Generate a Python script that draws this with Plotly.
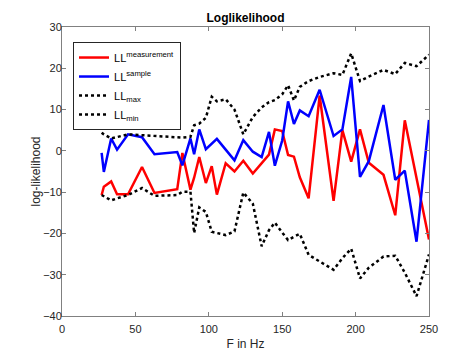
import plotly.graph_objects as go

freq = [27, 28.5, 33.5, 37.5, 45, 54.5, 63, 78.5, 82, 87.5, 90, 93.5, 98, 102, 105.5,
        111.5, 117.5, 123.5, 130, 136, 141, 145, 150, 154, 158, 162, 168, 175.5, 185,
        191, 197, 203, 209, 219, 227, 233.5, 241.5, 250]

ll_measurement = [-10.7, -8.7, -7.4, -10.5, -10.5, -3.9, -10.2, -9.3, -0.5, -9.4, -6.5, -1.5,
                  -7.8, -3.7, -10.6, -3.0, -5.0, -2.4, -5.5, -3.0, -0.9, 5.2, 4.8, -1.0, -1.4,
                  -6.4, -11.5, 13.4, -12.1, 5.0, -2.6, 5.2, -2.9, -5.8, -15.6, 7.4, -7.0, -21.5]

ll_sample = [-0.5, -5.1, 3.0, 0.3, 4.0, 3.3, -0.8, -0.3, -3.5, 3.0, -0.8, 5.2, 0.4, 1.8, 2.9,
             0.3, -2.3, 2.6, -0.2, -1.5, 4.6, -3.6, 2.5, 12.0, 6.5, 9.8, 8.4, 14.8, 3.6, 5.2,
             17.9, -6.3, -2.5, 11.1, -7.0, -4.8, -22.0, 7.5]

ll_max = [4.4, 4.0, 3.0, 3.4, 4.0, 3.8, 3.6, 3.4, 3.2, 3.4, 6.2, 6.6, 8.0, 13.1, 12.0, 12.5,
          10.0, 4.0, 8.2, 10.5, 11.8, 12.3, 13.7, 15.9, 12.2, 15.5, 16.9, 17.9, 18.8, 18.4,
          23.6, 16.9, 18.0, 19.6, 18.6, 21.3, 20.5, 23.3]

ll_min = [-10.7, -11.0, -12.0, -11.5, -10.7, -9.0, -10.9, -10.7, -9.9, -9.9, -19.9, -13.7,
          -14.8, -19.6, -19.9, -20.4, -19.5, -10.1, -12.8, -23.1, -19.2, -17.4, -19.8, -21.6,
          -20.8, -20.1, -25.2, -26.8, -28.8, -26.0, -23.7, -30.9, -28.3, -25.6, -25.4, -29.5,
          -35.2, -25.1]

x_ticks = [0, 50, 100, 150, 200, 250]
y_ticks = [-40, -30, -20, -10, 0, 10, 20, 30]

FONT = "Liberation Sans, Arial, Helvetica, sans-serif"

# page has an 8px body margin, so figure coordinates = page coordinates - 8
L, T, R, B = 54, 19, 53, 47.3
PLOT_W = 474 - L - R

fig = go.Figure()
fig.add_trace(go.Scatter(x=freq, y=ll_measurement, mode="lines", name="LL<sup>measurement</sup>",
                         line=dict(color="#ff0000", width=2.5)))
fig.add_trace(go.Scatter(x=freq, y=ll_sample, mode="lines", name="LL<sup>sample</sup>",
                         line=dict(color="#0000ff", width=2.5)))
fig.add_trace(go.Scatter(x=freq, y=ll_max, mode="lines", name="LL<sub>max</sub>",
                         line=dict(color="#000000", width=2.5, dash="dot")))
fig.add_trace(go.Scatter(x=freq, y=ll_min, mode="lines", name="LL<sub>min</sub>",
                         line=dict(color="#000000", width=2.5, dash="dot")))

axis_common = dict(showgrid=False, zeroline=False, showline=True, linecolor="#808080",
                   linewidth=1, mirror="allticks", ticks="inside", ticklen=4,
                   tickcolor="#808080", tickfont=dict(family=FONT, size=11, color="#262626"))

fig.update_xaxes(range=[0, 250], tickvals=x_ticks, ticklabelstandoff=3, **axis_common,
                 title=dict(text="F in Hz", font=dict(family=FONT, size=12, color="#262626"),
                            standoff=5))
fig.update_yaxes(range=[-40, 30], tickvals=y_ticks, ticklabelstandoff=-3, **axis_common)

fig.add_annotation(text="log-likelihood", xref="paper", yref="paper",
                   x=(35 - 8 - L) / PLOT_W, y=0.5, xanchor="center", yanchor="middle",
                   textangle=-90, showarrow=False,
                   font=dict(family=FONT, size=12, color="#262626"))

fig.update_layout(
    width=474, height=355,
    margin=dict(l=L, r=R, t=T, b=B),
    plot_bgcolor="white", paper_bgcolor="white",
    title=dict(text="<b>Loglikelihood</b>", x=(245.5 - 8) / 474, xanchor="center",
               y=1 - (17.5 - 8) / 355, yanchor="middle",
               font=dict(family=FONT, size=12, color="#000000")),
    legend=dict(x=0.03, y=0.948, xanchor="left", yanchor="top",
                bordercolor="#262626", borderwidth=1, bgcolor="white",
                font=dict(family=FONT, size=11, color="#000000"),
                tracegroupgap=0, itemwidth=30),
    showlegend=True,
)

fig.write_html("out.html")
